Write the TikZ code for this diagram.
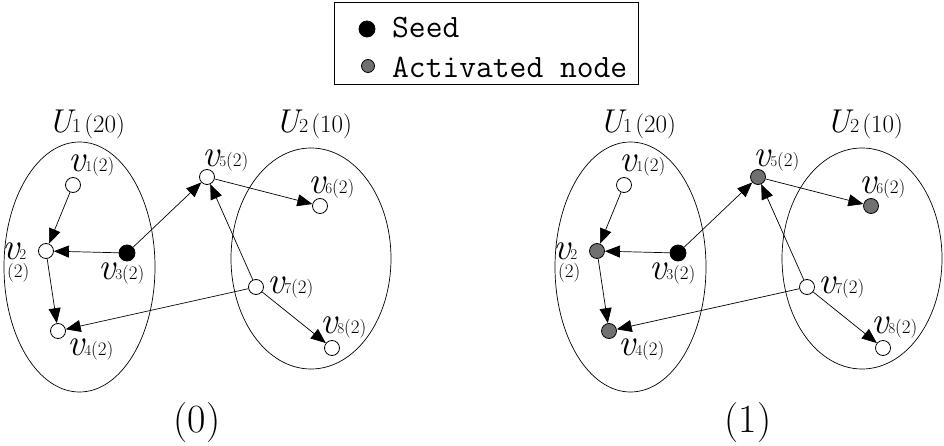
\documentclass[tikz,border=0pt]{standalone}
\usetikzlibrary{arrows.meta}
\definecolor{actgray}{RGB}{112,112,112}
\newcommand{\vlab}[1]{{\fontsize{38}{38}\selectfont\itshape v}{\fontsize{15}{15}\selectfont #1}{\fontsize{19}{19}\selectfont(2)}}
\newcommand{\vlabtwo}{\rlap{\hspace{5pt}\raisebox{-18pt}{\fontsize{19}{19}\selectfont(2)}}{\fontsize{38}{38}\selectfont\itshape v}{\fontsize{15}{15}\selectfont 2}}
\newcommand{\ulab}[2]{{\fontsize{33}{33}\selectfont\itshape U}{\fontsize{20}{20}\selectfont #1}\hspace{3pt}{\fontsize{25}{25}\selectfont(#2)}}
\begin{document}
\begin{tikzpicture}[x=1pt,y=-1pt,
  vert/.style={circle,draw,line width=0.8pt,minimum size=15pt,inner sep=0pt,fill=white},
  seed/.style={vert,fill=black,minimum size=16pt},
  act/.style={vert,fill=actgray},
  lab/.style={anchor=base west,inner sep=0pt},
  edge/.style={line width=0.7pt,-{Triangle[length=15pt,width=12pt]}},
  grp/.style={line width=0.7pt},
  legtext/.style={anchor=base west,inner sep=0pt,font=\ttfamily\fontsize{32.6}{33}\selectfont},
  captext/.style={font=\fontsize{40}{40}\selectfont}]
\useasboundingbox (0,0) rectangle (944,446);
% legend
\draw[line width=0.7pt] (334,2) rectangle (638,84);
\node[seed] (ldot1) at (367,29) {};
\node[act,minimum size=13pt] (ldot2) at (368,66) {};
\node[legtext] (lt1) at (392,38) {Seed};
\node[legtext] (lt2) at (392,78) {Activated node};

% panel (0)
\begin{scope}[name prefix=L-]
\draw[grp] (79.5,267) ellipse [x radius=75.5, y radius=125];
\draw[grp] (311,258.5) ellipse [x radius=80, y radius=110.5];
\node[lab] (u1) at (48,133) {\ulab{1}{20}};
\node[lab] (u2) at (275,133) {\ulab{2}{10}};
\node[vert] (v1) at (73,185) {};
\node[vert] (v2) at (46,251) {};
\node[seed] (v3) at (127,253) {};
\node[vert] (v4) at (58,331) {};
\node[vert] (v5) at (207,177) {};
\node[vert] (v6) at (320,206) {};
\node[vert] (v7) at (256,287) {};
\node[vert] (v8) at (332,348) {};
\node[lab] (l1) at (68,172) {\vlab{1}};
\node[lab] (l2) at (2,259) {\vlabtwo};
\node[lab] (l3) at (98,279) {\vlab{3}};
\node[lab] (l4) at (67,355) {\vlab{4}};
\node[lab] (l5) at (202,167) {\vlab{5}};
\node[lab] (l6) at (308,194) {\vlab{6}};
\node[lab] (l7) at (267,293) {\vlab{7}};
\node[lab] (l8) at (320,333) {\vlab{8}};
\draw[edge] (v1) -- (v2);
\draw[edge] (v3) -- (v2);
\draw[edge] (v2) -- (v4);
\draw[edge] (v3) -- (v5);
\draw[edge] (v7) -- (v5);
\draw[edge] (v5) -- (v6);
\draw[edge] (v7) -- (v4);
\draw[edge] (v7) -- (v8);
\node[captext] (c) at (197,423) {(0)};
\end{scope}

% panel (1)
\begin{scope}[shift={(551,0)},name prefix=R-]
\draw[grp] (79.5,267) ellipse [x radius=75.5, y radius=125];
\draw[grp] (311,258.5) ellipse [x radius=80, y radius=110.5];
\node[lab] (u1) at (48,133) {\ulab{1}{20}};
\node[lab] (u2) at (275,133) {\ulab{2}{10}};
\node[vert] (v1) at (73,185) {};
\node[act] (v2) at (46,251) {};
\node[seed] (v3) at (127,253) {};
\node[act] (v4) at (58,331) {};
\node[act] (v5) at (207,177) {};
\node[act] (v6) at (320,206) {};
\node[vert] (v7) at (256,287) {};
\node[vert] (v8) at (332,348) {};
\node[lab] (l1) at (68,172) {\vlab{1}};
\node[lab] (l2) at (2,259) {\vlabtwo};
\node[lab] (l3) at (98,279) {\vlab{3}};
\node[lab] (l4) at (67,355) {\vlab{4}};
\node[lab] (l5) at (202,167) {\vlab{5}};
\node[lab] (l6) at (308,194) {\vlab{6}};
\node[lab] (l7) at (267,293) {\vlab{7}};
\node[lab] (l8) at (320,333) {\vlab{8}};
\draw[edge] (v1) -- (v2);
\draw[edge] (v3) -- (v2);
\draw[edge] (v2) -- (v4);
\draw[edge] (v3) -- (v5);
\draw[edge] (v7) -- (v5);
\draw[edge] (v5) -- (v6);
\draw[edge] (v7) -- (v4);
\draw[edge] (v7) -- (v8);
\node[captext] (c) at (197,423) {(1)};
\end{scope}
\end{tikzpicture}
\end{document}
